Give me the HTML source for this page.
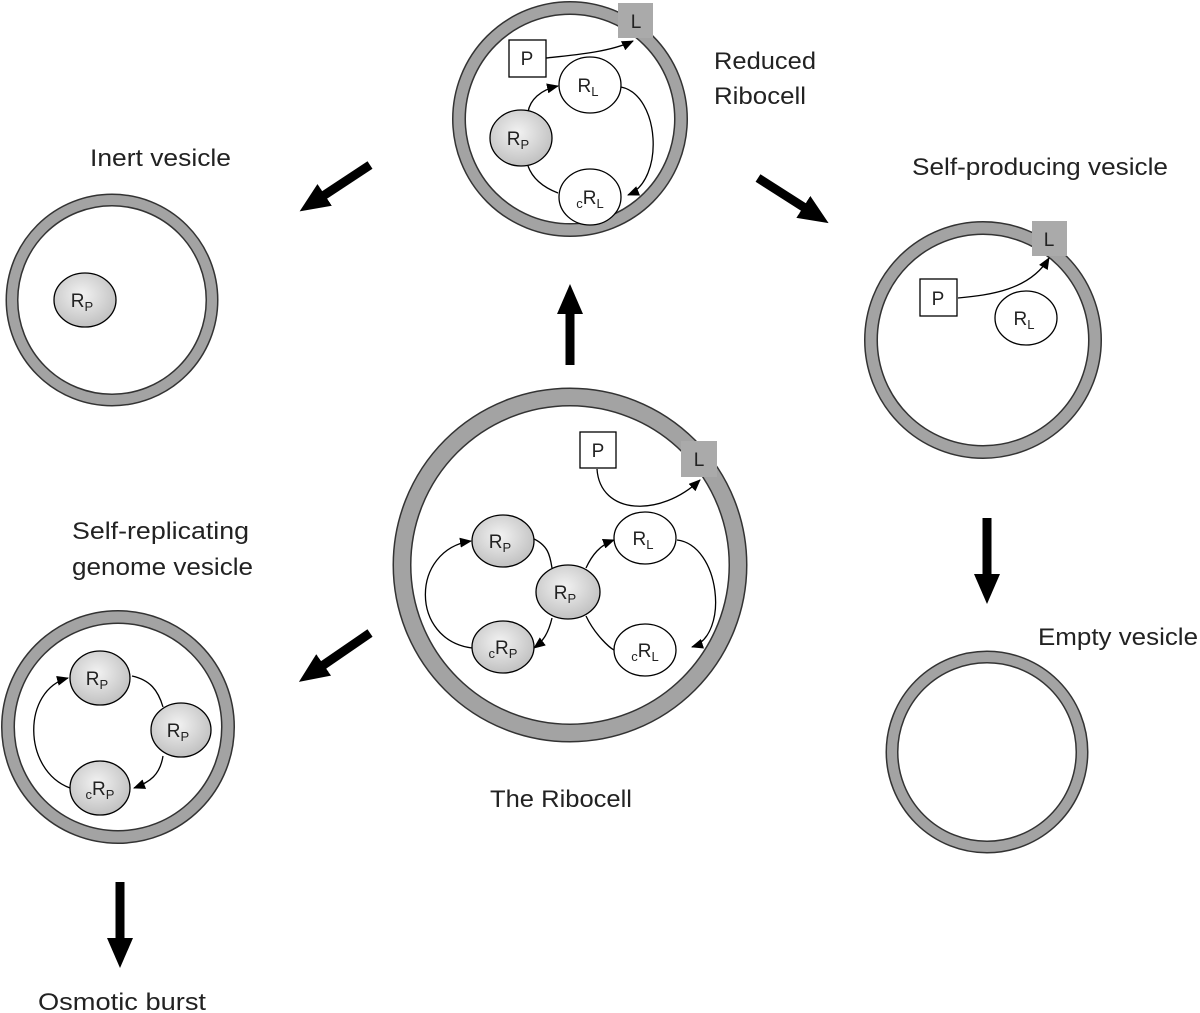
<!DOCTYPE html>
<html><head><meta charset="utf-8"><style>
html,body{margin:0;padding:0;background:#fff}
svg{display:block}
text{font-family:"Liberation Sans",sans-serif;fill:#222}
</style></head><body>
<svg width="1200" height="1013" viewBox="0 0 1200 1013" xmlns="http://www.w3.org/2000/svg">
<defs>
<radialGradient id="g" cx="0.45" cy="0.4" r="0.65"><stop offset="0" stop-color="#f2f2f2"/><stop offset="1" stop-color="#bdbdbd"/></radialGradient>
<marker id="ah" markerWidth="12" markerHeight="10" refX="11" refY="5" orient="auto" markerUnits="userSpaceOnUse"><path d="M0,0 L12,5 L0,10 z" fill="#000"/></marker>
<marker id="big" markerWidth="30" markerHeight="26" refX="2" refY="13" orient="auto" markerUnits="userSpaceOnUse"><path d="M0,0 L30,13 L0,26 z" fill="#000"/></marker>
</defs>

<g fill="none">
<circle cx="570" cy="565" r="168" stroke="#333" stroke-width="19"/><circle cx="570" cy="565" r="168" stroke="#a3a3a3" stroke-width="16"/>
<circle cx="570" cy="119" r="111" stroke="#333" stroke-width="14"/><circle cx="570" cy="119" r="111" stroke="#a3a3a3" stroke-width="11"/>
<circle cx="112" cy="300" r="100" stroke="#333" stroke-width="13"/><circle cx="112" cy="300" r="100" stroke="#a3a3a3" stroke-width="10"/>
<circle cx="983" cy="340" r="112" stroke="#333" stroke-width="14"/><circle cx="983" cy="340" r="112" stroke="#a3a3a3" stroke-width="11"/>
<circle cx="987" cy="752" r="95" stroke="#333" stroke-width="13"/><circle cx="987" cy="752" r="95" stroke="#a3a3a3" stroke-width="10"/>
<circle cx="118" cy="727" r="110" stroke="#333" stroke-width="14"/><circle cx="118" cy="727" r="110" stroke="#a3a3a3" stroke-width="11"/>
</g>

<g stroke="#000" stroke-width="9" fill="none">
<line x1="570" y1="365" x2="570" y2="312" marker-end="url(#big)"/>
<line x1="370" y1="165" x2="323" y2="196" marker-end="url(#big)"/>
<line x1="758" y1="178" x2="805" y2="208" marker-end="url(#big)"/>
<line x1="987" y1="518" x2="987" y2="576" marker-end="url(#big)"/>
<line x1="370" y1="633" x2="322" y2="666" marker-end="url(#big)"/>
<line x1="120" y1="882" x2="120" y2="940" marker-end="url(#big)"/>
</g>

<g stroke="#000" stroke-width="1.3" fill="none">
<path d="M597,469 C600,515 660,518 700,480" marker-end="url(#ah)"/>
<path d="M472,648 C410,640 410,550 471,541" marker-end="url(#ah)"/>
<path d="M532,538 C548,545 550,555 552,568" />
<path d="M552,618 C548,635 542,642 534,648" marker-end="url(#ah)"/>
<path d="M586,568 C592,555 600,545 614,540" marker-end="url(#ah)"/>
<path d="M586,616 C595,635 610,648 614,650" />
<path d="M677,540 C720,545 730,635 692,647" marker-end="url(#ah)"/>
<path d="M546,58 C575,55 610,52 633,41" marker-end="url(#ah)"/>
<path d="M528,112 C530,100 540,90 558,86" marker-end="url(#ah)"/>
<path d="M528,166 C533,180 545,188 558,193" />
<path d="M621,87 C660,95 665,180 628,195" marker-end="url(#ah)"/>
<path d="M958,298 C990,295 1030,290 1049,258" marker-end="url(#ah)"/>
<path d="M70,788 C22,770 22,690 68,678" marker-end="url(#ah)"/>
<path d="M132,676 C150,680 158,690 163,707" />
<path d="M163,756 C160,775 150,782 134,788" marker-end="url(#ah)"/>
</g>

<g stroke="#000" stroke-width="1.3">
<ellipse cx="503" cy="541" rx="31" ry="26" fill="url(#g)"/>
<ellipse cx="503" cy="647" rx="31" ry="26" fill="url(#g)"/>
<ellipse cx="568" cy="592" rx="32" ry="27" fill="url(#g)"/>
<ellipse cx="645" cy="538" rx="31" ry="26" fill="#fff"/>
<ellipse cx="645" cy="650" rx="31" ry="26" fill="#fff"/>
<rect x="580" y="432" width="36" height="36" fill="#fff"/>
<rect x="681" y="441" width="36" height="36" fill="#aaa" stroke="none"/>
<ellipse cx="590" cy="85" rx="31" ry="28" fill="#fff"/>
<ellipse cx="521" cy="138" rx="31" ry="28" fill="url(#g)"/>
<ellipse cx="590" cy="197" rx="31" ry="28" fill="#fff"/>
<rect x="509" y="40" width="37" height="37" fill="#fff"/>
<rect x="618" y="3" width="35" height="35" fill="#aaa" stroke="none"/>
<ellipse cx="85" cy="300" rx="31" ry="27" fill="url(#g)"/>
<ellipse cx="1026" cy="318" rx="31" ry="27" fill="#fff"/>
<rect x="920" y="279" width="37" height="37" fill="#fff"/>
<rect x="1032" y="221" width="35" height="35" fill="#aaa" stroke="none"/>
<ellipse cx="100" cy="678" rx="30" ry="27" fill="url(#g)"/>
<ellipse cx="181" cy="730" rx="30" ry="27" fill="url(#g)"/>
<ellipse cx="100" cy="788" rx="30" ry="27" fill="url(#g)"/>
</g>

<g font-size="19" text-anchor="middle">
<text x="500" y="548">R<tspan font-size="13" dy="4">P</tspan></text>
<text x="503" y="654"><tspan font-size="13" dy="4">c</tspan><tspan dy="-4">R</tspan><tspan font-size="13" dy="4">P</tspan></text>
<text x="565" y="599">R<tspan font-size="13" dy="4">P</tspan></text>
<text x="643" y="545">R<tspan font-size="13" dy="4">L</tspan></text>
<text x="645" y="657"><tspan font-size="13" dy="4">c</tspan><tspan dy="-4">R</tspan><tspan font-size="13" dy="4">L</tspan></text>
<text x="598" y="457">P</text>
<text x="699" y="466">L</text>
<text x="588" y="92">R<tspan font-size="13" dy="4">L</tspan></text>
<text x="518" y="145">R<tspan font-size="13" dy="4">P</tspan></text>
<text x="590" y="204"><tspan font-size="13" dy="4">c</tspan><tspan dy="-4">R</tspan><tspan font-size="13" dy="4">L</tspan></text>
<text x="527" y="65">P</text>
<text x="636" y="28">L</text>
<text x="82" y="307">R<tspan font-size="13" dy="4">P</tspan></text>
<text x="1024" y="325">R<tspan font-size="13" dy="4">L</tspan></text>
<text x="938" y="305">P</text>
<text x="1049" y="246">L</text>
<text x="97" y="685">R<tspan font-size="13" dy="4">P</tspan></text>
<text x="178" y="737">R<tspan font-size="13" dy="4">P</tspan></text>
<text x="100" y="795"><tspan font-size="13" dy="4">c</tspan><tspan dy="-4">R</tspan><tspan font-size="13" dy="4">P</tspan></text>
</g>

<g font-size="24">
<text x="90" y="166" textLength="141" lengthAdjust="spacingAndGlyphs">Inert vesicle</text>
<text x="714" y="69" textLength="102" lengthAdjust="spacingAndGlyphs">Reduced</text>
<text x="714" y="104" textLength="92" lengthAdjust="spacingAndGlyphs">Ribocell</text>
<text x="912" y="175" textLength="256" lengthAdjust="spacingAndGlyphs">Self-producing vesicle</text>
<text x="72" y="539" textLength="177" lengthAdjust="spacingAndGlyphs">Self-replicating</text>
<text x="72" y="575" textLength="181" lengthAdjust="spacingAndGlyphs">genome vesicle</text>
<text x="1038" y="645" textLength="160" lengthAdjust="spacingAndGlyphs">Empty vesicle</text>
<text x="490" y="807" textLength="142" lengthAdjust="spacingAndGlyphs">The Ribocell</text>
<text x="38" y="1010" textLength="168" lengthAdjust="spacingAndGlyphs">Osmotic burst</text>
</g>
</svg>
</body></html>
